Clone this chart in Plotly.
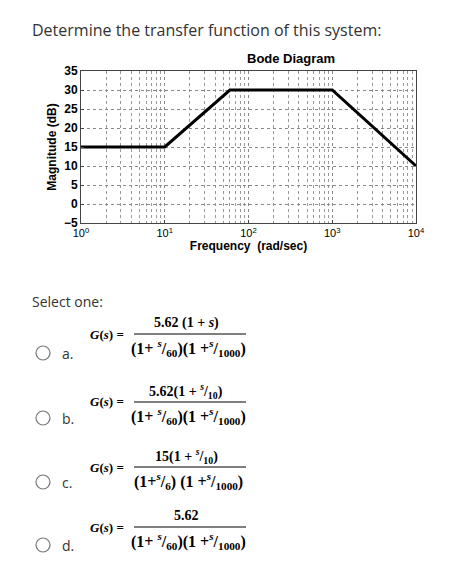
import plotly.graph_objects as go

freq = [1, 10, 60, 1000, 10000]
mag_db = [15, 15, 30, 30, 10]
y_ticks = [-5, 0, 5, 10, 15, 20, 25, 30, 35]
x_ticks = [1, 10, 100, 1000, 10000]
x_tick_labels = ["10<sup>0</sup>", "10<sup>1</sup>", "10<sup>2</sup>", "10<sup>3</sup>", "10<sup>4</sup>"]
x_minor = [m * 10 ** e for e in range(4) for m in range(2, 10)]

W, H = 472, 562
L, R, T, B = 73, 408, 63, 215

def px(x):
    return (x - L) / (R - L)

def py(y):
    return (B - y) / (B - T)

fig = go.Figure(go.Scatter(x=freq, y=mag_db, mode="lines",
                           line=dict(color="black", width=3), hoverinfo="skip"))

grid = dict(showgrid=True, gridcolor="#888", griddash="dot", gridwidth=1)
fig.update_xaxes(type="log", range=[0, 4], tickvals=x_ticks, ticktext=x_tick_labels,
                 tickfont=dict(family="Liberation Sans", size=11, color="black"),
                 showline=True, linecolor="#444", mirror=True, ticks="inside", ticklen=3,
                 minor=dict(tickvals=x_minor, showgrid=True, gridcolor="#999",
                            griddash="dot", ticks=""),
                 title=dict(text="<b>Frequency  (rad/sec)</b>", standoff=2,
                            font=dict(family="Liberation Sans", size=12, color="black")),
                 **grid)
fig.update_yaxes(range=[-5, 35], tickvals=y_ticks,
                 ticktext=[f"<b>{v}</b>" if v >= 0 else f"<b>\u2212{-v}</b>" for v in y_ticks],
                 tickfont=dict(family="Liberation Sans", size=12, color="black"),
                 showline=True, linecolor="#444", mirror=True, ticks="inside", ticklen=3,
                 zeroline=False,
                 title=dict(text="<b>Magnitude (dB)</b>", standoff=4,
                            font=dict(family="Liberation Sans", size=12, color="black")),
                 **grid)

ann = []
shapes = []

def text(x, y, s, size=12, family="Liberation Serif", color="black", xanchor="center"):
    ann.append(dict(x=px(x), y=py(y), xref="paper", yref="paper", text=s, showarrow=False,
                    xanchor=xanchor, yanchor="middle",
                    font=dict(size=size, family=family, color=color)))

text(22, 22, "Determine the transfer function of this system:", 16, "Open Sans", "#333", "left")
text(283, 50, "<b>Bode Diagram</b>", 13, "Liberation Sans", "black")
text(22, 293, "Select one:", 14, "Open Sans", "#333", "left")

den60 = "<b>(1+ <sup><i>s</i></sup>/<sub>60</sub>)(1 +<sup><i>s</i></sup>/<sub>1000</sub>)</b>"
options = [
    ("a.", 345, 326, "<b>5.62 (1 + <i>s</i>)</b>", den60),
    ("b.", 410, 394, "<b>5.62(1 + <sup><i>s</i></sup>/<sub>10</sub>)</b>", den60),
    ("c.", 474, 459, "<b>15(1 + <sup><i>s</i></sup>/<sub>10</sub>)</b>",
     "<b>(1+<sup><i>s</i></sup>/<sub>6</sub>) (1 +<sup><i>s</i></sup>/<sub>1000</sub>)</b>"),
    ("d.", 537, 519, "<b>5.62</b>", den60),
]
for lab, cy, by, num, den in options:
    shapes.append(dict(type="circle", xref="paper", yref="paper",
                       x0=px(28), x1=px(42), y0=py(cy + 7), y1=py(cy - 7),
                       line=dict(color="#777", width=1.2), fillcolor="white"))
    text(52, cy, lab, 14, "Open Sans", "#333", "left")
    text(80, by, "<b><i>G</i>(<i>s</i>) =</b>", 13, "Liberation Serif", "black", "left")
    shapes.append(dict(type="line", xref="paper", yref="paper",
                       x0=px(126), x1=px(238), y0=py(by), y1=py(by),
                       line=dict(color="black", width=1.2)))
    text(178, by - 11, num, 14)
    text(180, by + 14, den, 16)

fig.update_layout(width=W, height=H, margin=dict(l=L, r=W - R, t=T, b=H - B),
                  paper_bgcolor="white", plot_bgcolor="white", showlegend=False,
                  annotations=ann, shapes=shapes)
fig.write_html("out.html")
